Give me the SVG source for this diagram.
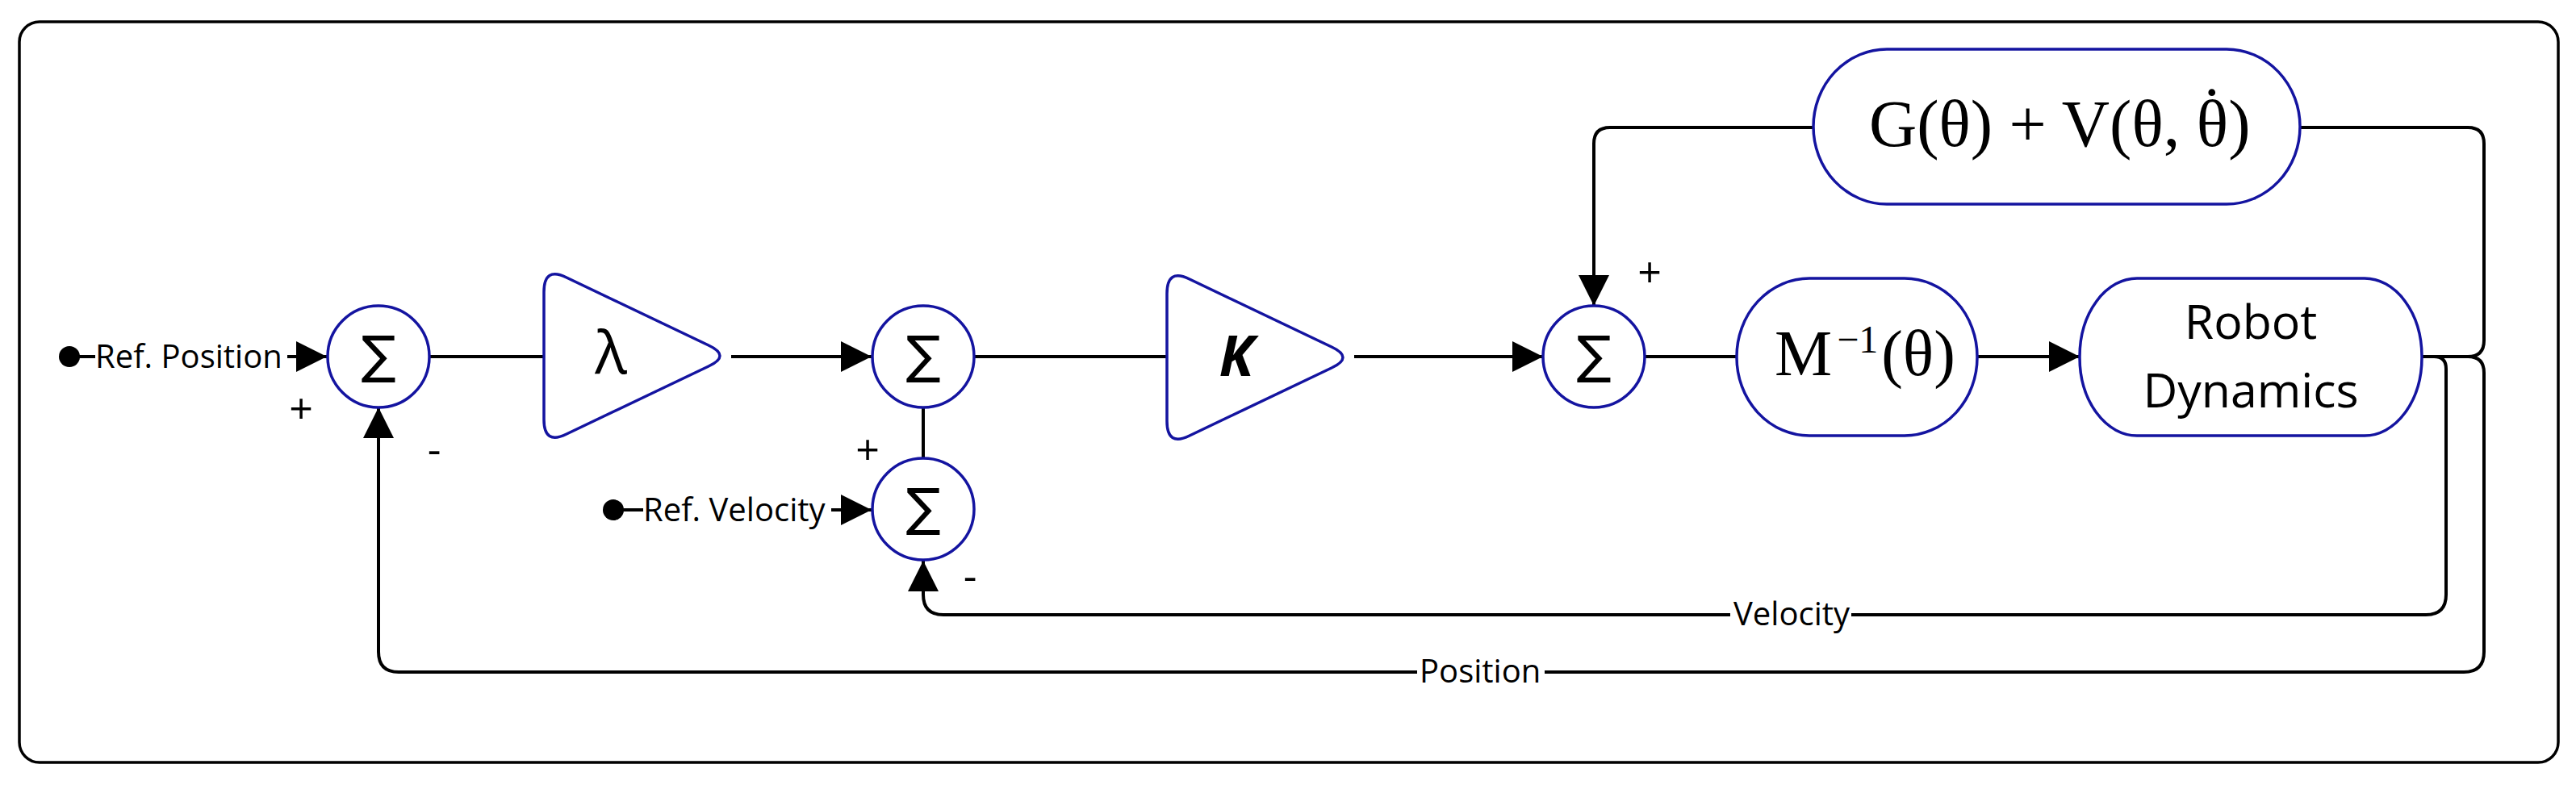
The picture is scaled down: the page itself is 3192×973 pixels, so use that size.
<svg xmlns="http://www.w3.org/2000/svg" width="3192" height="973" viewBox="0 0 3192 973">
<style>
.blk{fill:#fff;stroke:#1414a0;stroke-width:3.5}
.ln{fill:none;stroke:#000;stroke-width:4}
.lbl{font-family:"Open Sans","Noto Sans",sans-serif;font-size:40px;fill:#000}
.sgn{font-family:"Open Sans","Noto Sans",sans-serif;font-size:52px;fill:#000;text-anchor:middle}
.sum{font-family:"DejaVu Sans",sans-serif;font-size:64px;fill:#000;text-anchor:middle}
.math{font-family:"Liberation Serif","DejaVu Serif",serif;fill:#000}
.sans{font-family:"Open Sans","Noto Sans",sans-serif;fill:#000;text-anchor:middle}
</style>
<defs>
<marker id="arr" markerUnits="userSpaceOnUse" viewBox="0 0 38 38" markerWidth="38" markerHeight="38" refX="38" refY="19" orient="auto">
<path d="M0,0 L38,19 L0,38 Z" fill="#000"/>
</marker>
</defs>
<rect x="24" y="27" width="3146" height="918" rx="25" ry="25" fill="#fff" stroke="#000" stroke-width="3.5"/>
<g id="connectors">
<circle cx="86" cy="442" r="13" fill="#000"/>
<path class="ln" d="M86,442 H118"/>
<path class="ln" d="M356,442 H405" marker-end="url(#arr)"/>
<path class="ln" d="M532,442 H674"/>
<path class="ln" d="M906,442 H1080" marker-end="url(#arr)"/>
<path class="ln" d="M1207,442 H1446"/>
<path class="ln" d="M1144,506 V567"/>
<circle cx="760" cy="632" r="13" fill="#000"/>
<path class="ln" d="M760,632 H797"/>
<path class="ln" d="M1030,632 H1080" marker-end="url(#arr)"/>
<path class="ln" d="M1678,442 H1912" marker-end="url(#arr)"/>
<path class="ln" d="M2038,442 H2152"/>
<path class="ln" d="M2450,442 H2577" marker-end="url(#arr)"/>
<path class="ln" d="M3001,442 H3058 Q3078,442 3078,422 V178 Q3078,158 3058,158 H2850"/>
<path class="ln" d="M2247,158 H1995 Q1975,158 1975,178 V379" marker-end="url(#arr)"/>
<path class="ln" d="M3001,442 H3016 Q3031,442 3031,457 V737 Q3031,762 3006,762 H1169 Q1144,762 1144,737 V695" marker-end="url(#arr)"/>
<path class="ln" d="M3058,442 Q3078,442 3078,462 V808 Q3078,833 3053,833 H494 Q469,833 469,808 V505" marker-end="url(#arr)"/>
<rect x="2144" y="740" width="150" height="44" fill="#fff"/>
<text class="lbl" x="2148" y="775">Velocity</text>
<rect x="1756" y="811" width="158" height="44" fill="#fff"/>
<text class="lbl" x="1759" y="846">Position</text>
<text class="lbl" x="118" y="456">Ref. Position</text>
<text class="lbl" x="797" y="646">Ref. Velocity</text>
<text class="sgn" x="373" y="525">+</text>
<text class="sgn" x="538" y="575">-</text>
<text class="sgn" x="1075" y="576">+</text>
<text class="sgn" x="1202" y="732">-</text>
<text class="sgn" x="2044" y="356">+</text>
</g>
<g id="sum1">
<circle class="blk" cx="469" cy="442" r="63"/>
<text class="sum" x="469" y="462">∑</text>
</g>
<g id="gain-lambda">
<path class="blk" d="M674,362 Q674,330 702,344 L878,428 Q906,441 878,454 L702,538 Q674,552 674,520 Z"/>
<text class="sans" x="757" y="463" font-size="74">λ</text>
</g>
<g id="sum2">
<circle class="blk" cx="1144" cy="442" r="63"/>
<text class="sum" x="1144" y="462">∑</text>
</g>
<g id="sum3">
<circle class="blk" cx="1144" cy="631" r="63"/>
<text class="sum" x="1144" y="651">∑</text>
</g>
<g id="gain-K">
<path class="blk" d="M1446,364 Q1446,332 1474,346 L1650,430 Q1678,443 1650,456 L1474,540 Q1446,554 1446,522 Z"/>
<text class="sans" x="1532" y="466" font-size="70" font-weight="bold" font-style="italic">K</text>
</g>
<g id="sum4">
<circle class="blk" cx="1975" cy="442" r="63"/>
<text class="sum" x="1975" y="462">∑</text>
</g>
<g id="gv-block">
<rect class="blk" x="2247" y="61" width="603" height="192" rx="91" ry="96"/>
<text class="math" x="2316" y="181" font-size="82">G(θ) + V(θ, θ<tspan dx="-34" dy="-16">˙</tspan><tspan dx="7" dy="16">)</tspan></text>
</g>
<g id="minv-block">
<rect class="blk" x="2152" y="345" width="298" height="195" rx="90" ry="97"/>
<text class="math" x="2199" y="465" font-size="80">M<tspan font-size="48" dx="6" dy="-28">−1</tspan><tspan dx="4" dy="28">(θ)</tspan></text>
</g>
<g id="robot-block">
<rect class="blk" x="2577" y="345" width="424" height="195" rx="71" ry="97"/>
<text class="sans" x="2789" y="420" font-size="59">Robot</text>
<text class="sans" x="2789" y="505" font-size="59">Dynamics</text>
</g>
</svg>
